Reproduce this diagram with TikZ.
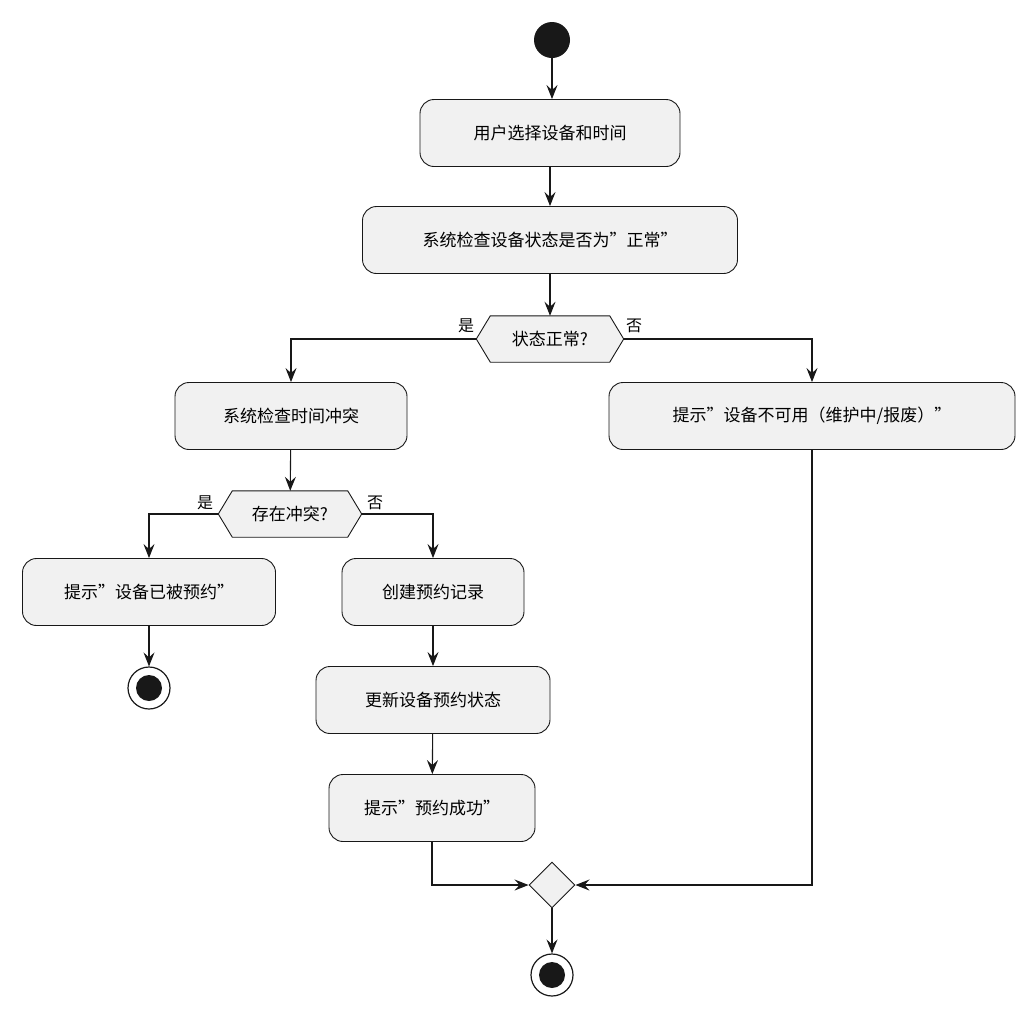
\documentclass[tikz,border=0pt]{standalone}
\usepackage{fontspec}
\setmainfont{Noto Sans CJK SC}
\usetikzlibrary{shapes.geometric,arrows.meta}
\definecolor{bg}{HTML}{F1F1F1}
\definecolor{ln}{HTML}{181818}
\begin{document}
\begin{tikzpicture}[x=1pt,y=-1pt,
  box/.style={draw=ln,fill=bg,rounded corners=14pt,line width=0.9pt,minimum height=67pt,inner xsep=14pt,font=\fontsize{17}{20}\selectfont},
  hex/.style={minimum height=46pt,inner sep=0pt,font=\fontsize{17}{20}\selectfont},
  lbl/.style={font=\fontsize{16}{18}\selectfont,inner sep=1pt},
  arr/.style={draw=ln,line width=1.1pt,-{Stealth[length=14pt,width=11pt,inset=5pt]}}]
\useasboundingbox (0,0) rectangle (1035,1015);
\newcommand\hexagon[1]{\draw[draw=ln,fill=bg,line width=0.9pt] (#1.west) -- ([xshift=14pt]#1.north west) -- ([xshift=-14pt]#1.north east) -- (#1.east) -- ([xshift=-14pt]#1.south east) -- ([xshift=14pt]#1.south west) -- cycle;}
\fill[ln] (552,40) circle (18);
\coordinate (s) at (552,58);
\node[box,minimum width=260pt] (b1) at (550,133) {用户选择设备和时间};
\node[box,minimum width=375pt] (b2) at (550,240) {系统检查设备状态是否为"正常"};
\node[hex,minimum width=147pt] (h1) at (550,339) {};
\hexagon{h1}
\node[hex] at (h1) {状态正常?};
\node[box,minimum width=232pt] (b3) at (291,416) {系统检查时间冲突};
\node[box,minimum width=406pt] (b4) at (812,416) {提示"设备不可用（维护中/报废）"};
\node[hex,minimum width=143pt] (h2) at (290,514) {};
\hexagon{h2}
\node[hex] at (h2) {存在冲突?};
\node[box,minimum width=253pt] (b5) at (149,592) {提示"设备已被预约"};
\node[box,minimum width=182pt] (b6) at (433,592) {创建预约记录};
\node[box,minimum width=234pt] (b7) at (433,700) {更新设备预约状态};
\node[box,minimum width=206pt] (b8) at (432,808) {提示"预约成功"};
\node[draw=ln,fill=bg,line width=0.9pt,diamond,minimum width=46pt,minimum height=46pt,inner sep=0pt] (m) at (552,885) {};
\node[circle,draw=ln,line width=1.2pt,minimum size=42pt,inner sep=0pt] (e1) at (149,688) {};
\fill[ln] (e1) circle (13);
\node[circle,draw=ln,line width=1.2pt,minimum size=42pt,inner sep=0pt] (e2) at (552,975) {};
\fill[ln] (e2) circle (13);
\node[lbl] at (466,326) {是};
\node[lbl] at (634,326) {否};
\node[lbl] at (205,503) {是};
\node[lbl] at (375,503) {否};
\draw[arr] (s) -- (b1.north -| s);
\draw[arr] (b1) -- (b2);
\draw[arr] (b2) -- (h1);
\draw[arr] (h1.west) -| (b3.north);
\draw[arr] (h1.east) -| (b4.north);
\draw[arr] (b3) -- (h2);
\draw[arr] (h2.west) -| (b5.north);
\draw[arr] (h2.east) -| (b6.north);
\draw[arr] (b5) -- (e1);
\draw[arr] (b6) -- (b7);
\draw[arr] (b7) -- (b8);
\draw[arr] (b8.south) |- (m.west);
\draw[arr] (b4.south) |- (m.east);
\draw[arr] (m) -- (e2);
\end{tikzpicture}
\end{document}
